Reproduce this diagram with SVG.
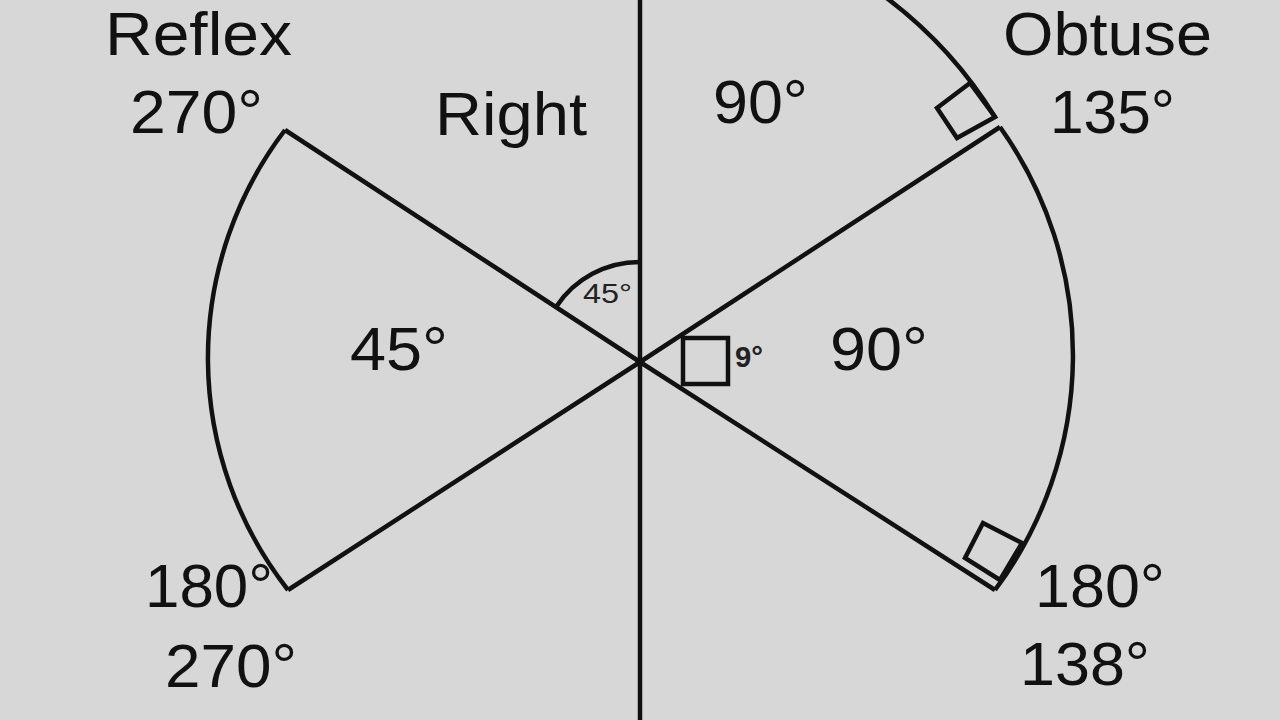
<svg xmlns="http://www.w3.org/2000/svg" width="1280" height="720" viewBox="0 0 1280 720">
<style>
.ln{fill:none;stroke:#111;stroke-width:4.5;stroke-linejoin:miter;stroke-linecap:butt}
.lb{font-family:"Liberation Sans",Arial,sans-serif;fill:#111;font-size:62px}
.sm{font-family:"Liberation Sans",Arial,sans-serif;fill:#222}
</style>
<rect width="1280" height="720" fill="#d7d7d7"/>
<g id="axis">
<line class="ln" x1="640" y1="0" x2="640" y2="720"/>
</g>
<g id="rays">
<path class="ln" d="M285,130 L640,362 L995,590"/>
<path class="ln" d="M288,590 L640,362 L1000,127"/>
</g>
<g id="left-sector">
<path class="ln" d="M285,130 A376,376 0 0 0 288,590"/>
</g>
<g id="right-sector">
<path class="ln" d="M1000,127 A393,393 0 0 1 995,590"/>
<path class="ln" d="M884,-4 A435,435 0 0 1 995,117"/>
</g>
<g id="markers">
<path class="ln" d="M556,307 A100,100 0 0 1 640,262"/>
<rect class="ln" x="683" y="338" width="45" height="46"/>
<polygon class="ln" points="970,83 937,108 957,138 995,117"/>
<polygon class="ln" points="983,523 965,558 1000,580 1022,543"/>
</g>
<g id="labels">
<text class="lb" x="105" y="55" font-size="58" textLength="187" lengthAdjust="spacingAndGlyphs">Reflex</text>
<text class="lb" x="130" y="133" textLength="133" lengthAdjust="spacingAndGlyphs">270°</text>
<text class="lb" x="435" y="135" textLength="152" lengthAdjust="spacingAndGlyphs">Right</text>
<text class="lb" x="713" y="123" textLength="95" lengthAdjust="spacingAndGlyphs">90°</text>
<text class="lb" x="1003" y="55" font-size="60" textLength="209" lengthAdjust="spacingAndGlyphs">Obtuse</text>
<text class="lb" x="1050" y="133" textLength="125" lengthAdjust="spacingAndGlyphs">135°</text>
<text class="lb" x="350" y="370" textLength="98" lengthAdjust="spacingAndGlyphs">45°</text>
<text class="lb" x="830" y="370" textLength="98" lengthAdjust="spacingAndGlyphs">90°</text>
<text class="lb" x="145" y="607" textLength="128" lengthAdjust="spacingAndGlyphs">180°</text>
<text class="lb" x="165" y="687" textLength="132" lengthAdjust="spacingAndGlyphs">270°</text>
<text class="lb" x="1035" y="607" textLength="130" lengthAdjust="spacingAndGlyphs">180°</text>
<text class="lb" x="1020" y="685" textLength="130" lengthAdjust="spacingAndGlyphs">138°</text>
<text class="sm" x="583" y="303" font-size="28" textLength="49" lengthAdjust="spacingAndGlyphs">45°</text>
<text class="sm" x="735" y="367" font-size="30" font-weight="bold" textLength="28" lengthAdjust="spacingAndGlyphs">9°</text>
</g>
</svg>
